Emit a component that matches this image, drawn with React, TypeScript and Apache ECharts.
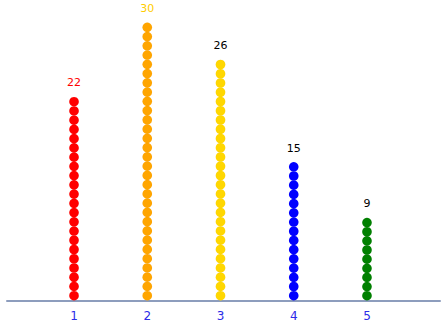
import React, { useEffect, useRef } from "react";
import * as echarts from "echarts";

const categories = ["1", "2", "3", "4", "5"];
const values = [22, 30, 26, 15, 9];
const dotColors = ["#FF0000", "#FFA500", "#FFD700", "#0000FF", "#008000"];
const labelColors = ["#FF0000", "#FFCC00", "#000000", "#000000", "#000000"];

export default function App() {
  const ref = useRef<HTMLDivElement>(null);
  useEffect(() => {
    document.body.style.margin = "0";
    const chart = echarts.init(ref.current!, undefined, { renderer: "svg" });
    chart.setOption({
      animation: false,
      grid: [
        { left: 37.4, right: 43.4, top: 22, bottom: 25 },
        { left: 7, right: 7, top: 22, bottom: 25 },
      ],
      xAxis: [
        {
          type: "category",
          gridIndex: 0,
          data: categories,
          axisLine: { show: false },
          axisTick: { show: false },
          axisLabel: {
            color: "#2B2BE8",
            fontFamily: "DejaVu Sans",
            fontSize: 12,
            margin: 9,
          },
        },
        {
          type: "value",
          gridIndex: 1,
          min: 0,
          max: 1,
          axisLine: { show: true, onZero: false, lineStyle: { color: "#8D9DBD", width: 2 } },
          axisTick: { show: false },
          axisLabel: { show: false },
          splitLine: { show: false },
        },
      ],
      yAxis: [
        { type: "value", gridIndex: 0, min: 0, max: 30, show: false },
        { type: "value", gridIndex: 1, min: 0, max: 30, show: false },
      ],
      series: [
        {
          type: "pictorialBar",
          xAxisIndex: 0,
          yAxisIndex: 0,
          symbol: "circle",
          symbolSize: [9.6, 9.6],
          symbolClip: false,
          data: values.map((v, i) => ({
            value: v,
            symbolRepeat: v,
            symbolBoundingData: v,
            itemStyle: { color: dotColors[i], borderColor: "#7A7A7A", borderWidth: 1 },
            label: { color: labelColors[i] },
          })),
          label: {
            show: true,
            position: "top",
            distance: 8,
            fontFamily: "DejaVu Sans",
            fontSize: 11,
          },
        },
      ],
    });
    return () => chart.dispose();
  }, []);
  return (
    <div
      ref={ref}
      style={{ position: "absolute", left: 0, top: 0, width: 447, height: 326 }}
    />
  );
}
